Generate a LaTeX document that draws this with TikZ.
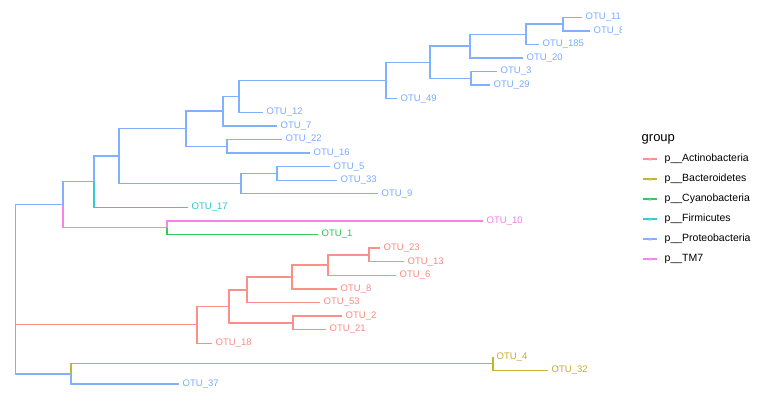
\documentclass[tikz,border=0pt]{standalone}
\usepackage{fontspec}
\setmainfont{Liberation Sans}
\definecolor{actino}{HTML}{F8766D}
\definecolor{bacte}{HTML}{B79F00}
\definecolor{cyano}{HTML}{00BA38}
\definecolor{firmi}{HTML}{00BFC4}
\definecolor{proteo}{HTML}{619CFF}
\definecolor{tmseven}{HTML}{F564E3}

\begin{document}
\begin{tikzpicture}[x=1pt,y=-1pt,line width=1.4pt]
  \tikzset{
    tip/.style={anchor=west,inner xsep=3pt,inner ysep=1pt,text=#1!85,
        font=\fontsize{9.5}{10}\selectfont},
    br/.style={draw=#1!80},
    keytxt/.style={anchor=west,inner xsep=0pt,font=\fontsize{10.5}{12}\selectfont},
    keya/.style={inner sep=0pt,text=#1!55,font=\fontsize{6}{6}\selectfont}
  }
  \useasboundingbox (0,0) rectangle (768,403);

  % inner nodes
  \coordinate (root) at (15.7,301.1);
  \coordinate (n1) at (63,204.8);
  \coordinate (n2) at (94,181.8);
  \coordinate (n3) at (119,156.2);
  \coordinate (n4) at (186,128.8);
  \coordinate (n5) at (223,111.2);
  \coordinate (n6) at (239,96.5);
  \coordinate (n7) at (386,80.5);
  \coordinate (n8) at (430,62.3);
  \coordinate (n9) at (470,46.2);
  \coordinate (n10) at (526,34.3);
  \coordinate (n11) at (563,24.1);
  \coordinate (n12) at (471,78.4);
  \coordinate (n13) at (227,146.3);
  \coordinate (n14) at (241,183.6);
  \coordinate (n15) at (277,173.5);
  \coordinate (n16) at (167,227.8);
  \coordinate (n17) at (197,324.7);
  \coordinate (n18) at (229,306.3);
  \coordinate (n19) at (247,289.8);
  \coordinate (n20) at (292,277.0);
  \coordinate (n21) at (328,265.1);
  \coordinate (n22) at (369,255.0);
  \coordinate (n23) at (293,322.8);
  \coordinate (n24) at (71,373.8);
  \coordinate (n25) at (493,363.6);

  % tips
  \node[tip=proteo] (otu11) at (582,17.3) {OTU\_11};
  \begin{scope}
    \clip (0,0) rectangle (621,403);
    \node[tip=proteo] (otu8a) at (590,30.9) {OTU\_8};
  \end{scope}
  \node[tip=proteo] (otu185) at (539,44.5) {OTU\_185};
  \node[tip=proteo] (otu20) at (523,58.0) {OTU\_20};
  \node[tip=proteo] (otu3) at (497,71.6) {OTU\_3};
  \node[tip=proteo] (otu29) at (490,85.2) {OTU\_29};
  \node[tip=proteo] (otu49) at (397,98.8) {OTU\_49};
  \node[tip=proteo] (otu12) at (263,112.4) {OTU\_12};
  \node[tip=proteo] (otu7) at (277,125.9) {OTU\_7};
  \node[tip=proteo] (otu22) at (282,139.5) {OTU\_22};
  \node[tip=proteo] (otu16) at (310,153.1) {OTU\_16};
  \node[tip=proteo] (otu5) at (330,166.7) {OTU\_5};
  \node[tip=proteo] (otu33) at (337,180.3) {OTU\_33};
  \node[tip=proteo] (otu9) at (378,193.8) {OTU\_9};
  \node[tip=firmi] (otu17) at (188,207.4) {OTU\_17};
  \node[tip=tmseven] (otu10) at (483,221.0) {OTU\_10};
  \node[tip=cyano] (otu1) at (318,234.6) {OTU\_1};
  \node[tip=actino] (otu23) at (380,248.2) {OTU\_23};
  \node[tip=actino] (otu13) at (404,261.7) {OTU\_13};
  \node[tip=actino] (otu6) at (396,275.3) {OTU\_6};
  \node[tip=actino] (otu8b) at (337,288.9) {OTU\_8};
  \node[tip=actino] (otu53) at (320,302.5) {OTU\_53};
  \node[tip=actino] (otu2) at (342,316.1) {OTU\_2};
  \node[tip=actino] (otu21) at (326,329.6) {OTU\_21};
  \node[tip=actino] (otu18) at (212,343.2) {OTU\_18};
  \node[tip=bacte] (otu4) at (493,356.8) {OTU\_4};
  \node[tip=bacte] (otu32) at (548,370.4) {OTU\_32};
  \node[tip=proteo] (otu37) at (179,384.0) {OTU\_37};

  % branches
  \draw[br=actino] (root) |- (n17);
  \draw[br=proteo] (root) |- (n1);
  \draw[br=proteo] (root) |- (n24);
  \draw[br=proteo] (n1) |- (n2);
  \draw[br=tmseven] (n1) |- (n16);
  \draw[br=proteo] (n2) |- (n3);
  \draw[br=firmi] (n2) |- (otu17.west);
  \draw[br=proteo] (n3) |- (n4);
  \draw[br=proteo] (n3) |- (n14);
  \draw[br=proteo] (n4) |- (n5);
  \draw[br=proteo] (n4) |- (n13);
  \draw[br=proteo] (n5) |- (n6);
  \draw[br=proteo] (n5) |- (otu7.west);
  \draw[br=proteo] (n6) |- (n7);
  \draw[br=proteo] (n6) |- (otu12.west);
  \draw[br=proteo] (n7) |- (n8);
  \draw[br=proteo] (n7) |- (otu49.west);
  \draw[br=proteo] (n8) |- (n9);
  \draw[br=proteo] (n8) |- (n12);
  \draw[br=proteo] (n9) |- (n10);
  \draw[br=proteo] (n9) |- (otu20.west);
  \draw[br=proteo] (n10) |- (n11);
  \draw[br=proteo] (n10) |- (otu185.west);
  \draw[br=proteo] (n11) |- (otu11.west);
  \draw[br=proteo] (n11) |- (otu8a.west);
  \draw[br=proteo] (n12) |- (otu3.west);
  \draw[br=proteo] (n12) |- (otu29.west);
  \draw[br=proteo] (n13) |- (otu22.west);
  \draw[br=proteo] (n13) |- (otu16.west);
  \draw[br=proteo] (n14) |- (n15);
  \draw[br=proteo] (n14) |- (otu9.west);
  \draw[br=proteo] (n15) |- (otu5.west);
  \draw[br=proteo] (n15) |- (otu33.west);
  \draw[br=tmseven] (n16) |- (otu10.west);
  \draw[br=cyano] (n16) |- (otu1.west);
  \draw[br=actino] (n17) |- (n18);
  \draw[br=actino] (n17) |- (otu18.west);
  \draw[br=actino] (n18) |- (n19);
  \draw[br=actino] (n18) |- (n23);
  \draw[br=actino] (n19) |- (n20);
  \draw[br=actino] (n19) |- (otu53.west);
  \draw[br=actino] (n20) |- (n21);
  \draw[br=actino] (n20) |- (otu8b.west);
  \draw[br=actino] (n21) |- (n22);
  \draw[br=actino] (n21) |- (otu6.west);
  \draw[br=actino] (n22) |- (otu23.west);
  \draw[br=actino] (n22) |- (otu13.west);
  \draw[br=actino] (n23) |- (otu2.west);
  \draw[br=actino] (n23) |- (otu21.west);
  \draw[br=bacte] (n24) |- (n25);
  \draw[br=proteo] (n24) |- (otu37.west);
  \draw[br=bacte] (n25) |- (otu4.west);
  \draw[br=bacte] (n25) |- (otu32.west);

  % legend
  \node[anchor=west,inner xsep=0pt,font=\fontsize{13}{14}\selectfont] (grp) at (641,139) {group};
  \foreach \clr/\txt [count=\i] in {actino/Actinobacteria,bacte/Bacteroidetes,
      cyano/Cyanobacteria,firmi/Firmicutes,proteo/Proteobacteria,tmseven/TM7}{
      \coordinate (kl\i) at (643,139+20*\i);
      \coordinate (kr\i) at (657,139+20*\i);
      \draw[br=\clr,line width=1.3pt] (kl\i)--(kr\i);
      \node[keya=\clr] (ka\i) at (650,139.5+20*\i) {a};
      \node[keytxt] (lg\i) at (664,139+20*\i) {p\_\_\txt};
    }
\end{tikzpicture}
\end{document}
